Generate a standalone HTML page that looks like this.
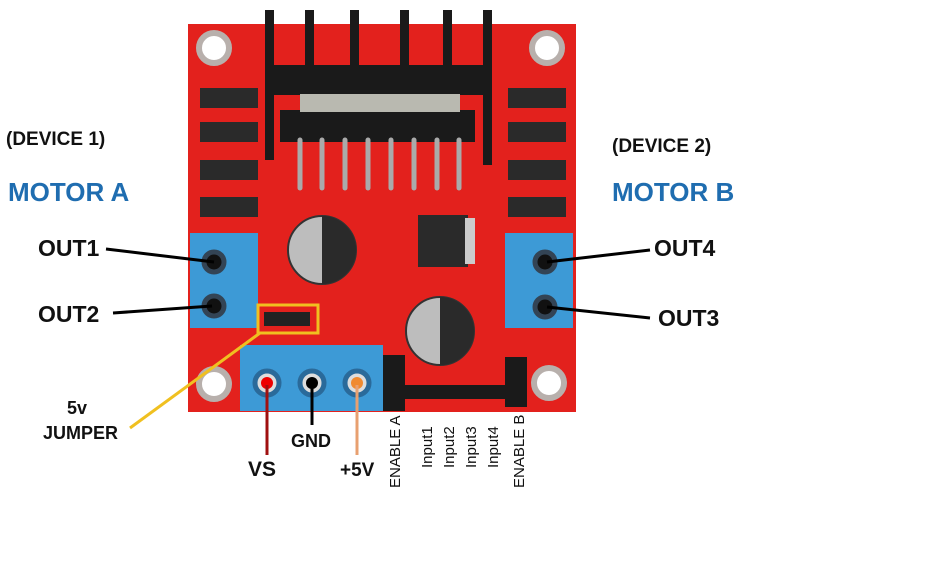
<!DOCTYPE html>
<html><head><style>
body{margin:0;background:#fff;}
svg{display:block;}
text{font-family:"Liberation Sans",sans-serif;}
</style></head><body>
<svg width="933" height="563" viewBox="0 0 933 563" xmlns="http://www.w3.org/2000/svg">
<rect width="933" height="563" fill="#fff"/>
<rect x="188" y="24" width="388" height="388" fill="#e3211d"/>
<g fill="#fff" stroke="#b8b0ac" stroke-width="6">
<circle cx="214" cy="48" r="15"/><circle cx="547" cy="48" r="15"/>
<circle cx="214" cy="384" r="15"/><circle cx="549" cy="383" r="15"/>
</g>
<g fill="#1a1a1a">
<rect x="265" y="10" width="9" height="150"/><rect x="305" y="10" width="9" height="60"/>
<rect x="350" y="10" width="9" height="60"/><rect x="400" y="10" width="9" height="60"/>
<rect x="443" y="10" width="9" height="60"/><rect x="483" y="10" width="9" height="155"/>
<rect x="272" y="65" width="215" height="30"/>
<rect x="280" y="110" width="195" height="32"/>
</g>
<rect x="300" y="94" width="160" height="18" fill="#b9b9b0"/>
<g stroke="#aaa" stroke-width="5" stroke-linecap="round">
<line x1="300" y1="140" x2="300" y2="188"/><line x1="322" y1="140" x2="322" y2="188"/>
<line x1="345" y1="140" x2="345" y2="188"/><line x1="368" y1="140" x2="368" y2="188"/>
<line x1="391" y1="140" x2="391" y2="188"/><line x1="414" y1="140" x2="414" y2="188"/>
<line x1="437" y1="140" x2="437" y2="188"/><line x1="459" y1="140" x2="459" y2="188"/>
</g>
<g fill="#2a2a2a">
<rect x="200" y="88" width="58" height="20"/><rect x="200" y="122" width="58" height="20"/>
<rect x="200" y="160" width="58" height="20"/><rect x="200" y="197" width="58" height="20"/>
<rect x="508" y="88" width="58" height="20"/><rect x="508" y="122" width="58" height="20"/>
<rect x="508" y="160" width="58" height="20"/><rect x="508" y="197" width="58" height="20"/>
</g>
<rect x="418" y="215" width="50" height="52" fill="#2a2a2a"/>
<rect x="465" y="218" width="10" height="46" fill="#ccc"/>
<circle cx="322" cy="250" r="34" fill="#bdbdbd" stroke="#333" stroke-width="2"/>
<path d="M322 216 A34 34 0 0 1 322 284 Z" fill="#2a2a2a"/>
<circle cx="440" cy="331" r="34" fill="#bdbdbd" stroke="#333" stroke-width="2"/>
<path d="M440 297 A34 34 0 0 1 440 365 Z" fill="#2a2a2a"/>
<rect x="190" y="233" width="68" height="95" fill="#3d9ad6"/>
<rect x="505" y="233" width="68" height="95" fill="#3d9ad6"/>
<g fill="#111" stroke="#345" stroke-width="5">
<circle cx="214" cy="262" r="10"/><circle cx="214" cy="306" r="10"/>
<circle cx="545" cy="262" r="10"/><circle cx="545" cy="307" r="10"/>
</g>
<rect x="258" y="305" width="60" height="28" fill="none" stroke="#f0c020" stroke-width="3"/>
<rect x="264" y="312" width="46" height="14" fill="#222"/>
<rect x="240" y="345" width="143" height="66" fill="#3d9ad6"/>
<g stroke="#2a6a9a" stroke-width="5">
<circle cx="267" cy="383" r="12" fill="#ddd"/><circle cx="312" cy="383" r="12" fill="#ddd"/><circle cx="357" cy="383" r="12" fill="#ddd"/>
</g>
<circle cx="267" cy="383" r="6" fill="#e00"/><circle cx="312" cy="383" r="6" fill="#000"/><circle cx="357" cy="383" r="6" fill="#f08a30"/>
<rect x="383" y="355" width="22" height="56" fill="#1a1a1a"/>
<rect x="405" y="385" width="100" height="14" fill="#1a1a1a"/>
<rect x="505" y="357" width="22" height="50" fill="#1a1a1a"/>
<g stroke="#000" stroke-width="3">
<line x1="106" y1="249" x2="214" y2="262"/><line x1="113" y1="313" x2="212" y2="306"/>
<line x1="547" y1="262" x2="650" y2="250"/><line x1="547" y1="307" x2="650" y2="318"/>
<line x1="312" y1="385" x2="312" y2="425"/>
</g>
<line x1="267" y1="385" x2="267" y2="455" stroke="#a01010" stroke-width="3"/>
<line x1="357" y1="385" x2="357" y2="455" stroke="#e8a070" stroke-width="3"/>
<line x1="130" y1="428" x2="260" y2="333" stroke="#f0c020" stroke-width="3"/>
<g font-weight="bold" fill="#111">
<text x="6" y="145" font-size="19">(DEVICE 1)</text>
<text x="612" y="152" font-size="19">(DEVICE 2)</text>
<text x="38" y="256" font-size="23">OUT1</text>
<text x="38" y="322" font-size="23">OUT2</text>
<text x="654" y="256" font-size="23">OUT4</text>
<text x="658" y="326" font-size="23">OUT3</text>
<text x="67" y="414" font-size="18">5v</text>
<text x="43" y="439" font-size="18">JUMPER</text>
<text x="248" y="476" font-size="21">VS</text>
<text x="291" y="447" font-size="18">GND</text>
<text x="340" y="476" font-size="19">+5V</text>
</g>
<g font-weight="bold" fill="#1f6db0" font-size="26">
<text x="8" y="201">MOTOR A</text>
<text x="612" y="201">MOTOR B</text>
</g>
<g font-size="15" fill="#111">
<text transform="translate(400,488) rotate(-90)">ENABLE A</text>
<text transform="translate(432,468) rotate(-90)">Input1</text>
<text transform="translate(454,468) rotate(-90)">Input2</text>
<text transform="translate(476,468) rotate(-90)">Input3</text>
<text transform="translate(498,468) rotate(-90)">Input4</text>
<text transform="translate(524,488) rotate(-90)">ENABLE B</text>
</g>
</svg>
</body></html>
